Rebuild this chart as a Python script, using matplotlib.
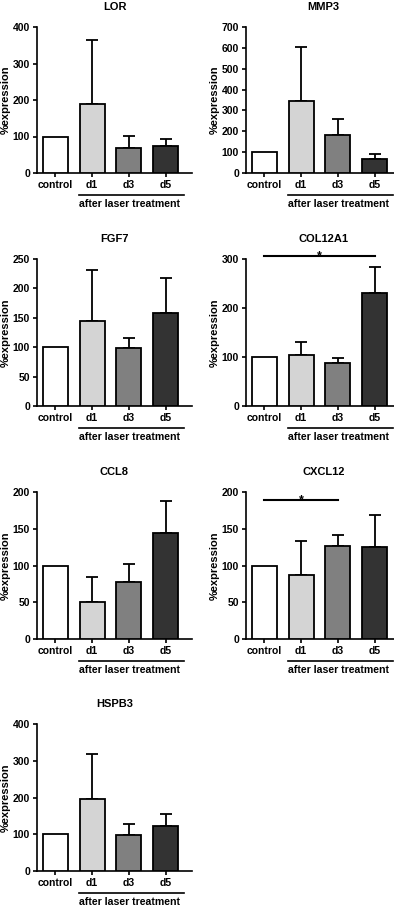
import numpy as np
import matplotlib
matplotlib.use('Agg')
import matplotlib.pyplot as plt

plt.rcParams['font.family'] = ['Liberation Sans', 'DejaVu Sans']
plt.rcParams['font.weight'] = 'bold'

groups = ['control', 'd1', 'd3', 'd5']
colors = ['white', '#d4d4d4', '#808080', '#333333']

genes = ['LOR', 'MMP3', 'FGF7', 'COL12A1', 'CCL8', 'CXCL12', 'HSPB3']
means = {
    'LOR':     [100, 189, 68, 74],
    'MMP3':    [100, 343, 183, 67],
    'FGF7':    [100, 145, 98, 158],
    'COL12A1': [100, 105, 88, 230],
    'CCL8':    [100, 50, 78, 144],
    'CXCL12':  [100, 87, 127, 125],
    'HSPB3':   [100, 195, 98, 122],
}
errs = {
    'LOR':     [0, 175, 34, 19],
    'MMP3':    [0, 261, 74, 22],
    'FGF7':    [0, 87, 17, 60],
    'COL12A1': [0, 25, 10, 54],
    'CCL8':    [0, 35, 24, 44],
    'CXCL12':  [0, 46, 14, 44],
    'HSPB3':   [0, 123, 29, 33],
}
ymax = {'LOR': 400, 'MMP3': 700, 'FGF7': 250, 'COL12A1': 300,
        'CCL8': 200, 'CXCL12': 200, 'HSPB3': 400}
ystep = {'LOR': 100, 'MMP3': 100, 'FGF7': 50, 'COL12A1': 100,
         'CCL8': 50, 'CXCL12': 50, 'HSPB3': 100}
# significance: gene -> (from group, to group, y level)
signif = {'COL12A1': (0, 3, 306), 'CXCL12': (0, 2, 189)}

W, H = 394, 906
fig = plt.figure(figsize=(W / 100, H / 100), dpi=100)

cols = [37, 246]
rows = [(27, 173), (259, 406), (492, 639), (724, 871)]
axw = 155

for i, g in enumerate(genes):
    r, c = divmod(i, 2)
    top, bot = rows[r]
    ax = fig.add_axes([cols[c] / W, (H - bot) / H, axw / W, (bot - top) / H])
    x = np.arange(len(groups))
    m = means[g]
    e = errs[g]
    ax.bar(x, m, width=0.68, color=colors, edgecolor='black', linewidth=1.3, zorder=3)
    ax.errorbar(x[1:], m[1:], yerr=[np.zeros(3), e[1:]], fmt='none', ecolor='black',
                elinewidth=1.3, capsize=4.5, capthick=1.3, zorder=2)
    ax.set_xlim(-0.5, 3.72)
    ax.set_ylim(0, ymax[g])
    ax.set_yticks(np.arange(0, ymax[g] + 1, ystep[g]))
    ax.set_xticks(x)
    ax.set_xticklabels(groups)
    for s in ['top', 'right']:
        ax.spines[s].set_visible(False)
    for s in ['left', 'bottom']:
        ax.spines[s].set_linewidth(1.2)
    ax.tick_params(axis='both', labelsize=7.5, width=1.2, length=3, pad=2)
    ax.set_title(g, fontsize=8, fontweight='bold', pad=12)
    ax.set_ylabel('%expression', fontsize=8, fontweight='bold')
    ax.yaxis.set_label_coords(-0.17, 0.5)

    # bracket under treated groups
    tr = ax.get_xaxis_transform()
    ax.plot([0.65, 3.5], [-0.15, -0.15], color='black', linewidth=1.2,
            transform=tr, clip_on=False)
    ax.text(2.03, -0.212, 'after laser treatment', transform=tr, ha='center',
            va='center', fontsize=7.6, fontweight='bold')

    if g in signif:
        a, b, yl = signif[g]
        ax.plot([a, b], [yl, yl], color='black', linewidth=1.5, clip_on=False)
        ax.annotate('*', xy=((a + b) / 2, yl), xytext=(0, -2.5), textcoords='offset points',
                    ha='center', va='baseline', fontsize=9, fontweight='bold',
                    annotation_clip=False)

fig.savefig('out.png', dpi=100)
